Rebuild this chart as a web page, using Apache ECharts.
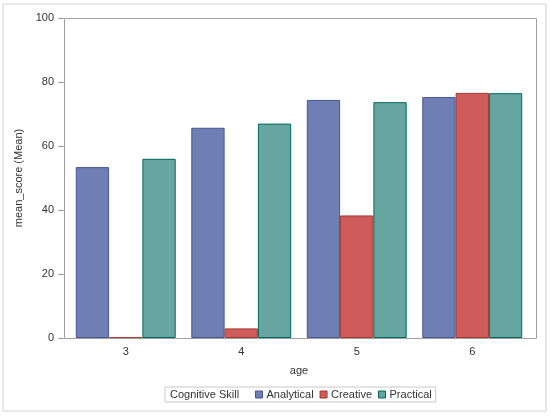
<!DOCTYPE html>
<html>
<head>
<meta charset="utf-8">
<script src="https://cdn.jsdelivr.net/npm/echarts@6/dist/echarts.min.js"></script>
<style>
  html, body { margin: 0; padding: 0; background: #fff; }
  #chart { width: 550px; height: 416px; }
</style>
</head>
<body>
<div id="chart"></div>
<script>
// data
var ages = ['3', '4', '5', '6'];
var analytical = [53.4, 65.7, 74.4, 75.3];
var creative = [0.2, 3.0, 38.3, 76.6];
var practical = [56.0, 67.0, 73.7, 76.5];
var yTicks = [0, 20, 40, 60, 80, 100];

var font = 'Liberation Sans';
var chart = echarts.init(document.getElementById('chart'));

function barSeries(name, data, fill, edge) {
    return {
        name: name,
        type: 'bar',
        data: data,
        barGap: '0%',
        barCategoryGap: '13.5%',
        itemStyle: { color: fill, borderColor: edge, borderWidth: 1 }
    };
}

chart.setOption({
    animation: false,
    textStyle: { fontFamily: font },
    // data area is a bit inset from the plot frame, like the original
    grid: { left: 68, right: 20, top: 18, bottom: 78 },
    xAxis: {
        type: 'category',
        data: ages,
        name: 'age',
        nameLocation: 'middle',
        nameGap: 27,
        nameTextStyle: { fontSize: 11, color: '#333', fontFamily: font },
        axisLine: { show: false },
        axisTick: { alignWithLabel: true, length: 5, lineStyle: { color: '#a0a0a0' } },
        axisLabel: { fontSize: 11, color: '#333', margin: 8, fontFamily: font }
    },
    yAxis: {
        type: 'value',
        min: yTicks[0],
        max: yTicks[yTicks.length - 1],
        interval: yTicks[1] - yTicks[0],
        offset: 4,
        name: 'mean_score (Mean)',
        nameLocation: 'middle',
        nameGap: 39,
        nameTextStyle: { fontSize: 11, color: '#333', fontFamily: font },
        splitLine: { show: false },
        axisLine: { show: false },
        axisTick: { show: true, length: 6, lineStyle: { color: '#a0a0a0' } },
        axisLabel: { fontSize: 11, color: '#333', margin: 10, fontFamily: font }
    },
    legend: {
        left: 165,
        top: 387,
        orient: 'horizontal',
        borderColor: '#c8c8c8',
        borderWidth: 1,
        padding: [2, 4, 2, 90],
        icon: 'rect',
        itemWidth: 7,
        itemHeight: 7,
        itemGap: 6,
        itemStyle: { borderWidth: 1 },
        textStyle: { fontSize: 11, color: '#333', fontFamily: font, padding: [0, 0, 0, -1] },
        data: ['Analytical', 'Creative', 'Practical']
    },
    graphic: [
        {
            type: 'rect',
            shape: { x: 3, y: 4, width: 543, height: 407 },
            style: { fill: 'none', stroke: '#d0d0d0', lineWidth: 1 },
            silent: true
        },
        {
            type: 'rect',
            shape: { x: 64.5, y: 18.5, width: 472, height: 320 },
            style: { fill: 'none', stroke: '#a0a0a0', lineWidth: 1 },
            silent: true,
            z: 10
        },
        {
            type: 'text',
            left: 170,
            top: 389,
            style: { text: 'Cognitive Skill', fill: '#333', font: '11px "Liberation Sans"' }
        }
    ],
    series: [
        barSeries('Analytical', analytical, '#6f7eb3', '#445694'),
        barSeries('Creative', creative, '#d05b5b', '#a23a2e'),
        barSeries('Practical', practical, '#66a5a0', '#01665e')
    ]
});
</script>
</body>
</html>
